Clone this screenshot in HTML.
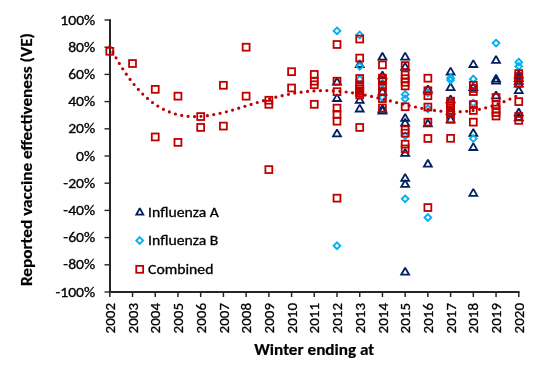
<!DOCTYPE html>
<html><head><meta charset="utf-8"><style>
html,body{margin:0;padding:0;background:#fff;}
body{width:550px;height:365px;overflow:hidden;}
svg{display:block;}
text{font-family:Carlito, "Liberation Sans", sans-serif;fill:#000;}
</style></head><body>
<svg width="550" height="365" viewBox="0 0 550 365">
<rect width="550" height="365" fill="#fff"/>

<g stroke="#262626" stroke-width="2" fill="none">
<path d="M110,19.2V293"/>
<path d="M109,292H519.6"/>
<path d="M104.5,292.00H110" stroke-width="1.4"/>
<path d="M104.5,264.80H110" stroke-width="1.4"/>
<path d="M104.5,237.60H110" stroke-width="1.4"/>
<path d="M104.5,210.40H110" stroke-width="1.4"/>
<path d="M104.5,183.20H110" stroke-width="1.4"/>
<path d="M104.5,156.00H110" stroke-width="1.4"/>
<path d="M104.5,128.80H110" stroke-width="1.4"/>
<path d="M104.5,101.60H110" stroke-width="1.4"/>
<path d="M104.5,74.40H110" stroke-width="1.4"/>
<path d="M104.5,47.20H110" stroke-width="1.4"/>
<path d="M104.5,20.00H110" stroke-width="1.4"/>
<path d="M109.80,292V297" stroke-width="1.5"/>
<path d="M132.52,292V297" stroke-width="1.5"/>
<path d="M155.24,292V297" stroke-width="1.5"/>
<path d="M177.96,292V297" stroke-width="1.5"/>
<path d="M200.68,292V297" stroke-width="1.5"/>
<path d="M223.40,292V297" stroke-width="1.5"/>
<path d="M246.12,292V297" stroke-width="1.5"/>
<path d="M268.84,292V297" stroke-width="1.5"/>
<path d="M291.56,292V297" stroke-width="1.5"/>
<path d="M314.28,292V297" stroke-width="1.5"/>
<path d="M337.00,292V297" stroke-width="1.5"/>
<path d="M359.72,292V297" stroke-width="1.5"/>
<path d="M382.44,292V297" stroke-width="1.5"/>
<path d="M405.16,292V297" stroke-width="1.5"/>
<path d="M427.88,292V297" stroke-width="1.5"/>
<path d="M450.60,292V297" stroke-width="1.5"/>
<path d="M473.32,292V297" stroke-width="1.5"/>
<path d="M496.04,292V297" stroke-width="1.5"/>
<path d="M518.76,292V297" stroke-width="1.5"/>
</g>
<g font-size="14.6" text-anchor="end" stroke="#000" stroke-width="0.3">
<text x="95.3" y="296.60" textLength="39.88" lengthAdjust="spacingAndGlyphs">-100%</text>
<text x="95.3" y="269.40" textLength="31.92" lengthAdjust="spacingAndGlyphs">-80%</text>
<text x="95.3" y="242.20" textLength="31.92" lengthAdjust="spacingAndGlyphs">-60%</text>
<text x="95.3" y="215.00" textLength="31.92" lengthAdjust="spacingAndGlyphs">-40%</text>
<text x="95.3" y="187.80" textLength="31.92" lengthAdjust="spacingAndGlyphs">-20%</text>
<text x="95.3" y="160.60" textLength="19.17" lengthAdjust="spacingAndGlyphs">0%</text>
<text x="95.3" y="133.40" textLength="27.12" lengthAdjust="spacingAndGlyphs">20%</text>
<text x="95.3" y="106.20" textLength="27.12" lengthAdjust="spacingAndGlyphs">40%</text>
<text x="95.3" y="79.00" textLength="27.12" lengthAdjust="spacingAndGlyphs">60%</text>
<text x="95.3" y="51.80" textLength="27.12" lengthAdjust="spacingAndGlyphs">80%</text>
<text x="95.3" y="24.60" textLength="35.08" lengthAdjust="spacingAndGlyphs">100%</text>
</g>
<g font-size="15" text-anchor="end">
<text transform="translate(114.90,303) rotate(-90)" textLength="30.4" lengthAdjust="spacingAndGlyphs" font-size="14.6" stroke="#000" stroke-width="0.3">2002</text>
<text transform="translate(137.62,303) rotate(-90)" textLength="30.4" lengthAdjust="spacingAndGlyphs" font-size="14.6" stroke="#000" stroke-width="0.3">2003</text>
<text transform="translate(160.34,303) rotate(-90)" textLength="30.4" lengthAdjust="spacingAndGlyphs" font-size="14.6" stroke="#000" stroke-width="0.3">2004</text>
<text transform="translate(183.06,303) rotate(-90)" textLength="30.4" lengthAdjust="spacingAndGlyphs" font-size="14.6" stroke="#000" stroke-width="0.3">2005</text>
<text transform="translate(205.78,303) rotate(-90)" textLength="30.4" lengthAdjust="spacingAndGlyphs" font-size="14.6" stroke="#000" stroke-width="0.3">2006</text>
<text transform="translate(228.50,303) rotate(-90)" textLength="30.4" lengthAdjust="spacingAndGlyphs" font-size="14.6" stroke="#000" stroke-width="0.3">2007</text>
<text transform="translate(251.22,303) rotate(-90)" textLength="30.4" lengthAdjust="spacingAndGlyphs" font-size="14.6" stroke="#000" stroke-width="0.3">2008</text>
<text transform="translate(273.94,303) rotate(-90)" textLength="30.4" lengthAdjust="spacingAndGlyphs" font-size="14.6" stroke="#000" stroke-width="0.3">2009</text>
<text transform="translate(296.66,303) rotate(-90)" textLength="30.4" lengthAdjust="spacingAndGlyphs" font-size="14.6" stroke="#000" stroke-width="0.3">2010</text>
<text transform="translate(319.38,303) rotate(-90)" textLength="30.4" lengthAdjust="spacingAndGlyphs" font-size="14.6" stroke="#000" stroke-width="0.3">2011</text>
<text transform="translate(342.10,303) rotate(-90)" textLength="30.4" lengthAdjust="spacingAndGlyphs" font-size="14.6" stroke="#000" stroke-width="0.3">2012</text>
<text transform="translate(364.82,303) rotate(-90)" textLength="30.4" lengthAdjust="spacingAndGlyphs" font-size="14.6" stroke="#000" stroke-width="0.3">2013</text>
<text transform="translate(387.54,303) rotate(-90)" textLength="30.4" lengthAdjust="spacingAndGlyphs" font-size="14.6" stroke="#000" stroke-width="0.3">2014</text>
<text transform="translate(410.26,303) rotate(-90)" textLength="30.4" lengthAdjust="spacingAndGlyphs" font-size="14.6" stroke="#000" stroke-width="0.3">2015</text>
<text transform="translate(432.98,303) rotate(-90)" textLength="30.4" lengthAdjust="spacingAndGlyphs" font-size="14.6" stroke="#000" stroke-width="0.3">2016</text>
<text transform="translate(455.70,303) rotate(-90)" textLength="30.4" lengthAdjust="spacingAndGlyphs" font-size="14.6" stroke="#000" stroke-width="0.3">2017</text>
<text transform="translate(478.42,303) rotate(-90)" textLength="30.4" lengthAdjust="spacingAndGlyphs" font-size="14.6" stroke="#000" stroke-width="0.3">2018</text>
<text transform="translate(501.14,303) rotate(-90)" textLength="30.4" lengthAdjust="spacingAndGlyphs" font-size="14.6" stroke="#000" stroke-width="0.3">2019</text>
<text transform="translate(523.86,303) rotate(-90)" textLength="30.4" lengthAdjust="spacingAndGlyphs" font-size="14.6" stroke="#000" stroke-width="0.3">2020</text>
</g>
<text font-weight="bold" text-anchor="middle" font-size="15" stroke="#000" stroke-width="0.2" textLength="253" lengthAdjust="spacingAndGlyphs" transform="translate(31.9,159.6) rotate(-90)">Reported vaccine effectiveness (VE)</text>
<text font-weight="bold" font-size="15" stroke="#000" stroke-width="0.2" textLength="120" lengthAdjust="spacingAndGlyphs" text-anchor="middle" x="314.3" y="355.2">Winter ending at</text>
<g fill="none" stroke="#002060" stroke-width="1.8" stroke-linejoin="miter" stroke-miterlimit="2">
<path d="M337.00,77.80L340.95,84.70H333.05Z"/>
<path d="M337.00,94.12L340.95,101.02H333.05Z"/>
<path d="M337.00,129.48L340.95,136.38H333.05Z"/>
<path d="M359.72,60.12L363.67,67.02H355.77Z"/>
<path d="M359.72,96.02L363.67,102.92H355.77Z"/>
<path d="M359.72,104.59L363.67,111.49H355.77Z"/>
<path d="M382.44,52.78L386.39,59.68H378.49Z"/>
<path d="M382.44,71.41L386.39,78.31H378.49Z"/>
<path d="M382.44,87.59L386.39,94.49H378.49Z"/>
<path d="M382.44,105.00L386.39,111.90H378.49Z"/>
<path d="M382.44,106.63L386.39,113.53H378.49Z"/>
<path d="M405.16,52.64L409.11,59.54H401.21Z"/>
<path d="M405.16,62.84L409.11,69.74H401.21Z"/>
<path d="M405.16,113.98L409.11,120.88H401.21Z"/>
<path d="M405.16,118.74L409.11,125.64H401.21Z"/>
<path d="M405.16,149.06L409.11,155.96H401.21Z"/>
<path d="M405.16,173.95L409.11,180.85H401.21Z"/>
<path d="M405.16,180.07L409.11,186.97H401.21Z"/>
<path d="M405.16,267.79L409.11,274.69H401.21Z"/>
<path d="M427.88,85.42L431.83,92.32H423.93Z"/>
<path d="M427.88,119.55L431.83,126.45H423.93Z"/>
<path d="M427.88,159.81L431.83,166.71H423.93Z"/>
<path d="M450.60,67.60L454.55,74.50H446.65Z"/>
<path d="M450.60,83.24L454.55,90.14H446.65Z"/>
<path d="M450.60,95.48L454.55,102.38H446.65Z"/>
<path d="M450.60,107.04L454.55,113.94H446.65Z"/>
<path d="M450.60,115.47L454.55,122.37H446.65Z"/>
<path d="M473.32,60.12L477.27,67.02H469.37Z"/>
<path d="M473.32,83.24L477.27,90.14H469.37Z"/>
<path d="M473.32,129.07L477.27,135.97H469.37Z"/>
<path d="M473.32,143.08L477.27,149.98H469.37Z"/>
<path d="M473.32,188.91L477.27,195.81H469.37Z"/>
<path d="M496.04,56.04L499.99,62.94H492.09Z"/>
<path d="M496.04,74.81L499.99,81.71H492.09Z"/>
<path d="M496.04,76.71L499.99,83.61H492.09Z"/>
<path d="M496.04,91.40L499.99,98.30H492.09Z"/>
<path d="M518.76,70.73L522.71,77.63H514.81Z"/>
<path d="M518.76,73.99L522.71,80.89H514.81Z"/>
<path d="M518.76,76.98L522.71,83.88H514.81Z"/>
<path d="M518.76,79.70L522.71,86.60H514.81Z"/>
<path d="M518.76,86.23L522.71,93.13H514.81Z"/>
<path d="M518.76,108.54L522.71,115.44H514.81Z"/>
<path d="M518.76,113.57L522.71,120.47H514.81Z"/>
</g>
<g fill="none" stroke="#00B0F0" stroke-width="1.9">
<path d="M337.00,27.51L340.37,30.88L337.00,34.25L333.63,30.88Z"/>
<path d="M337.00,242.39L340.37,245.76L337.00,249.13L333.63,245.76Z"/>
<path d="M359.72,31.59L363.09,34.96L359.72,38.33L356.35,34.96Z"/>
<path d="M359.72,62.87L363.09,66.24L359.72,69.61L356.35,66.24Z"/>
<path d="M359.72,75.79L363.09,79.16L359.72,82.53L356.35,79.16Z"/>
<path d="M359.72,92.25L363.09,95.62L359.72,98.99L356.35,95.62Z"/>
<path d="M382.44,80.14L385.81,83.51L382.44,86.88L379.07,83.51Z"/>
<path d="M382.44,94.15L385.81,97.52L382.44,100.89L379.07,97.52Z"/>
<path d="M405.16,91.02L408.53,94.39L405.16,97.76L401.79,94.39Z"/>
<path d="M405.16,95.37L408.53,98.74L405.16,102.11L401.79,98.74Z"/>
<path d="M405.16,132.50L408.53,135.87L405.16,139.24L401.79,135.87Z"/>
<path d="M405.16,195.47L408.53,198.84L405.16,202.21L401.79,198.84Z"/>
<path d="M427.88,89.53L431.25,92.90L427.88,96.27L424.51,92.90Z"/>
<path d="M427.88,105.44L431.25,108.81L427.88,112.18L424.51,108.81Z"/>
<path d="M427.88,214.10L431.25,217.47L427.88,220.84L424.51,217.47Z"/>
<path d="M450.60,74.57L453.97,77.94L450.60,81.31L447.23,77.94Z"/>
<path d="M450.60,76.74L453.97,80.11L450.60,83.48L447.23,80.11Z"/>
<path d="M473.32,75.65L476.69,79.02L473.32,82.39L469.95,79.02Z"/>
<path d="M473.32,99.59L476.69,102.96L473.32,106.33L469.95,102.96Z"/>
<path d="M473.32,135.09L476.69,138.46L473.32,141.83L469.95,138.46Z"/>
<path d="M496.04,39.75L499.41,43.12L496.04,46.49L492.67,43.12Z"/>
<path d="M518.76,58.79L522.13,62.16L518.76,65.53L515.39,62.16Z"/>
<path d="M518.76,62.87L522.13,66.24L518.76,69.61L515.39,66.24Z"/>
</g>
<g fill="none" stroke="#C00000" stroke-width="1.8">
<rect x="106.35" y="47.83" width="6.90" height="6.90"/>
<rect x="129.07" y="60.07" width="6.90" height="6.90"/>
<rect x="151.79" y="85.91" width="6.90" height="6.90"/>
<rect x="151.79" y="133.51" width="6.90" height="6.90"/>
<rect x="174.51" y="92.71" width="6.90" height="6.90"/>
<rect x="174.51" y="138.95" width="6.90" height="6.90"/>
<rect x="197.23" y="113.11" width="6.90" height="6.90"/>
<rect x="197.23" y="123.99" width="6.90" height="6.90"/>
<rect x="219.95" y="81.83" width="6.90" height="6.90"/>
<rect x="219.95" y="122.63" width="6.90" height="6.90"/>
<rect x="242.67" y="43.75" width="6.90" height="6.90"/>
<rect x="242.67" y="92.71" width="6.90" height="6.90"/>
<rect x="265.39" y="96.79" width="6.90" height="6.90"/>
<rect x="265.39" y="100.87" width="6.90" height="6.90"/>
<rect x="265.39" y="166.15" width="6.90" height="6.90"/>
<rect x="288.11" y="68.23" width="6.90" height="6.90"/>
<rect x="288.11" y="84.55" width="6.90" height="6.90"/>
<rect x="310.83" y="70.95" width="6.90" height="6.90"/>
<rect x="310.83" y="77.75" width="6.90" height="6.90"/>
<rect x="310.83" y="81.29" width="6.90" height="6.90"/>
<rect x="310.83" y="100.87" width="6.90" height="6.90"/>
<rect x="333.55" y="41.03" width="6.90" height="6.90"/>
<rect x="333.55" y="77.75" width="6.90" height="6.90"/>
<rect x="333.55" y="88.22" width="6.90" height="6.90"/>
<rect x="333.55" y="104.68" width="6.90" height="6.90"/>
<rect x="333.55" y="110.93" width="6.90" height="6.90"/>
<rect x="333.55" y="117.73" width="6.90" height="6.90"/>
<rect x="333.55" y="194.71" width="6.90" height="6.90"/>
<rect x="356.27" y="35.59" width="6.90" height="6.90"/>
<rect x="356.27" y="54.63" width="6.90" height="6.90"/>
<rect x="356.27" y="75.03" width="6.90" height="6.90"/>
<rect x="356.27" y="81.42" width="6.90" height="6.90"/>
<rect x="356.27" y="83.19" width="6.90" height="6.90"/>
<rect x="356.27" y="85.23" width="6.90" height="6.90"/>
<rect x="356.27" y="87.27" width="6.90" height="6.90"/>
<rect x="356.27" y="89.31" width="6.90" height="6.90"/>
<rect x="356.27" y="91.35" width="6.90" height="6.90"/>
<rect x="356.27" y="123.99" width="6.90" height="6.90"/>
<rect x="378.99" y="61.43" width="6.90" height="6.90"/>
<rect x="378.99" y="74.70" width="6.90" height="6.90"/>
<rect x="378.99" y="76.50" width="6.90" height="6.90"/>
<rect x="378.99" y="77.70" width="6.90" height="6.90"/>
<rect x="378.99" y="82.85" width="6.90" height="6.90"/>
<rect x="378.99" y="88.10" width="6.90" height="6.90"/>
<rect x="378.99" y="95.14" width="6.90" height="6.90"/>
<rect x="378.99" y="104.54" width="6.90" height="6.90"/>
<rect x="401.71" y="62.11" width="6.90" height="6.90"/>
<rect x="401.71" y="71.49" width="6.90" height="6.90"/>
<rect x="401.71" y="75.17" width="6.90" height="6.90"/>
<rect x="401.71" y="78.84" width="6.90" height="6.90"/>
<rect x="401.71" y="82.51" width="6.90" height="6.90"/>
<rect x="401.71" y="103.32" width="6.90" height="6.90"/>
<rect x="401.71" y="126.44" width="6.90" height="6.90"/>
<rect x="401.71" y="129.70" width="6.90" height="6.90"/>
<rect x="401.71" y="140.72" width="6.90" height="6.90"/>
<rect x="401.71" y="145.48" width="6.90" height="6.90"/>
<rect x="424.43" y="74.76" width="6.90" height="6.90"/>
<rect x="424.43" y="87.27" width="6.90" height="6.90"/>
<rect x="424.43" y="92.30" width="6.90" height="6.90"/>
<rect x="424.43" y="103.59" width="6.90" height="6.90"/>
<rect x="424.43" y="118.69" width="6.90" height="6.90"/>
<rect x="424.43" y="135.01" width="6.90" height="6.90"/>
<rect x="424.43" y="204.09" width="6.90" height="6.90"/>
<rect x="447.15" y="97.74" width="6.90" height="6.90"/>
<rect x="447.15" y="99.92" width="6.90" height="6.90"/>
<rect x="447.15" y="102.09" width="6.90" height="6.90"/>
<rect x="447.15" y="104.27" width="6.90" height="6.90"/>
<rect x="447.15" y="106.45" width="6.90" height="6.90"/>
<rect x="447.15" y="108.62" width="6.90" height="6.90"/>
<rect x="447.15" y="109.71" width="6.90" height="6.90"/>
<rect x="447.15" y="115.83" width="6.90" height="6.90"/>
<rect x="447.15" y="134.87" width="6.90" height="6.90"/>
<rect x="469.87" y="81.83" width="6.90" height="6.90"/>
<rect x="469.87" y="85.09" width="6.90" height="6.90"/>
<rect x="469.87" y="88.09" width="6.90" height="6.90"/>
<rect x="469.87" y="101.14" width="6.90" height="6.90"/>
<rect x="469.87" y="106.99" width="6.90" height="6.90"/>
<rect x="469.87" y="118.69" width="6.90" height="6.90"/>
<rect x="492.59" y="94.07" width="6.90" height="6.90"/>
<rect x="492.59" y="101.28" width="6.90" height="6.90"/>
<rect x="492.59" y="105.63" width="6.90" height="6.90"/>
<rect x="492.59" y="109.03" width="6.90" height="6.90"/>
<rect x="492.59" y="112.57" width="6.90" height="6.90"/>
<rect x="515.31" y="70.13" width="6.90" height="6.90"/>
<rect x="515.31" y="73.26" width="6.90" height="6.90"/>
<rect x="515.31" y="76.39" width="6.90" height="6.90"/>
<rect x="515.31" y="79.65" width="6.90" height="6.90"/>
<rect x="515.31" y="98.15" width="6.90" height="6.90"/>
<rect x="515.31" y="112.97" width="6.90" height="6.90"/>
<rect x="515.31" y="116.92" width="6.90" height="6.90"/>
</g>
<path d="M109.80,46.28 L111.17,48.92 L112.54,51.49 L113.90,54.01 L115.27,56.47 L116.64,58.86 L118.01,61.20 L119.38,63.49 L120.74,65.71 L122.11,67.88 L123.48,69.99 L124.85,72.05 L126.21,74.05 L127.58,75.99 L128.95,77.88 L130.32,79.72 L131.69,81.50 L133.05,83.24 L134.42,84.91 L135.79,86.54 L137.16,88.12 L138.53,89.64 L139.89,91.12 L141.26,92.54 L142.63,93.92 L144.00,95.25 L145.37,96.53 L146.73,97.77 L148.10,98.96 L149.47,100.10 L150.84,101.20 L152.20,102.25 L153.57,103.26 L154.94,104.23 L156.31,105.15 L157.68,106.03 L159.04,106.88 L160.41,107.68 L161.78,108.44 L163.15,109.16 L164.52,109.84 L165.88,110.49 L167.25,111.10 L168.62,111.67 L169.99,112.21 L171.36,112.71 L172.72,113.18 L174.09,113.61 L175.46,114.01 L176.83,114.38 L178.19,114.72 L179.56,115.02 L180.93,115.30 L182.30,115.55 L183.67,115.76 L185.03,115.95 L186.40,116.11 L187.77,116.25 L189.14,116.36 L190.51,116.44 L191.87,116.50 L193.24,116.53 L194.61,116.54 L195.98,116.53 L197.35,116.50 L198.71,116.44 L200.08,116.36 L201.45,116.27 L202.82,116.15 L204.18,116.02 L205.55,115.86 L206.92,115.69 L208.29,115.51 L209.66,115.30 L211.02,115.08 L212.39,114.85 L213.76,114.60 L215.13,114.33 L216.50,114.06 L217.86,113.77 L219.23,113.47 L220.60,113.16 L221.97,112.83 L223.34,112.50 L224.70,112.16 L226.07,111.81 L227.44,111.44 L228.81,111.08 L230.17,110.70 L231.54,110.32 L232.91,109.93 L234.28,109.53 L235.65,109.13 L237.01,108.73 L238.38,108.32 L239.75,107.91 L241.12,107.49 L242.49,107.07 L243.85,106.65 L245.22,106.23 L246.59,105.80 L247.96,105.38 L249.33,104.95 L250.69,104.53 L252.06,104.10 L253.43,103.68 L254.80,103.26 L256.16,102.84 L257.53,102.42 L258.90,102.00 L260.27,101.59 L261.64,101.18 L263.00,100.77 L264.37,100.37 L265.74,99.97 L267.11,99.58 L268.48,99.19 L269.84,98.81 L271.21,98.43 L272.58,98.06 L273.95,97.70 L275.32,97.34 L276.68,96.99 L278.05,96.65 L279.42,96.31 L280.79,95.98 L282.15,95.66 L283.52,95.35 L284.89,95.05 L286.26,94.75 L287.63,94.46 L288.99,94.19 L290.36,93.92 L291.73,93.66 L293.10,93.41 L294.47,93.17 L295.83,92.94 L297.20,92.72 L298.57,92.51 L299.94,92.31 L301.31,92.13 L302.67,91.95 L304.04,91.78 L305.41,91.62 L306.78,91.48 L308.14,91.34 L309.51,91.22 L310.88,91.11 L312.25,91.01 L313.62,90.92 L314.98,90.84 L316.35,90.77 L317.72,90.71 L319.09,90.66 L320.46,90.63 L321.82,90.61 L323.19,90.59 L324.56,90.59 L325.93,90.60 L327.29,90.62 L328.66,90.65 L330.03,90.70 L331.40,90.75 L332.77,90.81 L334.13,90.89 L335.50,90.97 L336.87,91.07 L338.24,91.17 L339.61,91.29 L340.97,91.41 L342.34,91.55 L343.71,91.69 L345.08,91.85 L346.45,92.01 L347.81,92.19 L349.18,92.37 L350.55,92.56 L351.92,92.76 L353.28,92.97 L354.65,93.19 L356.02,93.41 L357.39,93.64 L358.76,93.88 L360.12,94.13 L361.49,94.39 L362.86,94.65 L364.23,94.92 L365.60,95.19 L366.96,95.47 L368.33,95.76 L369.70,96.05 L371.07,96.35 L372.44,96.66 L373.80,96.96 L375.17,97.28 L376.54,97.59 L377.91,97.91 L379.27,98.24 L380.64,98.57 L382.01,98.90 L383.38,99.23 L384.75,99.56 L386.11,99.90 L387.48,100.24 L388.85,100.58 L390.22,100.92 L391.59,101.27 L392.95,101.61 L394.32,101.95 L395.69,102.29 L397.06,102.64 L398.43,102.98 L399.79,103.32 L401.16,103.65 L402.53,103.99 L403.90,104.32 L405.26,104.65 L406.63,104.98 L408.00,105.30 L409.37,105.62 L410.74,105.94 L412.10,106.25 L413.47,106.56 L414.84,106.86 L416.21,107.16 L417.58,107.45 L418.94,107.73 L420.31,108.01 L421.68,108.28 L423.05,108.54 L424.42,108.79 L425.78,109.04 L427.15,109.28 L428.52,109.51 L429.89,109.73 L431.25,109.94 L432.62,110.14 L433.99,110.34 L435.36,110.52 L436.73,110.69 L438.09,110.85 L439.46,111.00 L440.83,111.14 L442.20,111.26 L443.57,111.37 L444.93,111.48 L446.30,111.57 L447.67,111.64 L449.04,111.70 L450.41,111.75 L451.77,111.79 L453.14,111.81 L454.51,111.82 L455.88,111.81 L457.24,111.79 L458.61,111.76 L459.98,111.71 L461.35,111.64 L462.72,111.56 L464.08,111.47 L465.45,111.35 L466.82,111.23 L468.19,111.08 L469.56,110.93 L470.92,110.75 L472.29,110.56 L473.66,110.35 L475.03,110.13 L476.40,109.89 L477.76,109.64 L479.13,109.36 L480.50,109.08 L481.87,108.77 L483.23,108.45 L484.60,108.11 L485.97,107.76 L487.34,107.39 L488.71,107.01 L490.07,106.61 L491.44,106.19 L492.81,105.76 L494.18,105.31 L495.55,104.85 L496.91,104.37 L498.28,103.87 L499.65,103.37 L501.02,102.84 L502.39,102.31 L503.75,101.76 L505.12,101.19 L506.49,100.62 L507.86,100.03 L509.22,99.42 L510.59,98.81 L511.96,98.18 L513.33,97.55 L514.70,96.90 L516.06,96.24 L517.43,95.57 L518.80,94.90" fill="none" stroke="#C00000" stroke-width="3.2" stroke-linecap="round" stroke-dasharray="0 6.45" stroke-dashoffset="-0.22"/>
<g font-size="14.6">
<g fill="none" stroke="#002060" stroke-width="1.8" stroke-miterlimit="2"><path d="M139.8,208.3L143.3,214.7H136.3Z"/></g><text x="148.1" y="216.6" textLength="70.78" lengthAdjust="spacingAndGlyphs" stroke="#000" stroke-width="0.3">Influenza A</text>
<g fill="none" stroke="#00B0F0" stroke-width="1.9"><path d="M139.70,237.13L143.07,240.50L139.70,243.87L136.33,240.50Z"/></g><text x="148.1" y="245.0" textLength="70.23" lengthAdjust="spacingAndGlyphs" stroke="#000" stroke-width="0.3">Influenza B</text>
<g fill="none" stroke="#C00000" stroke-width="1.8"><rect x="136.25" y="265.85" width="6.90" height="6.90"/></g><text x="148.1" y="273.5" textLength="65.31" lengthAdjust="spacingAndGlyphs" stroke="#000" stroke-width="0.3">Combined</text>
</g>
</svg></body></html>
